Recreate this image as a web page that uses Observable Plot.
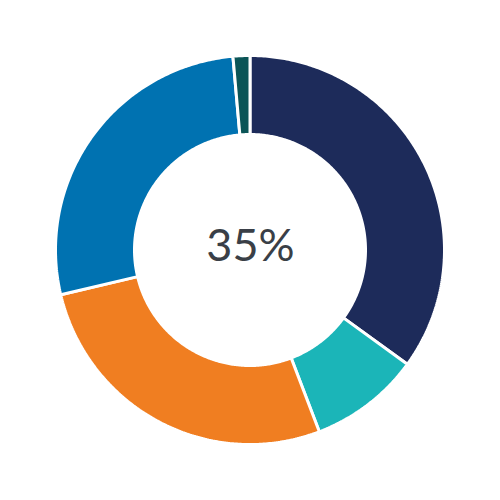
<!DOCTYPE html>
<html>
<head>
<meta charset="utf-8">
<script src="https://cdn.jsdelivr.net/npm/d3@7"></script>
<script src="https://cdn.jsdelivr.net/npm/@observablehq/plot@0.6"></script>
<style>
  html, body { margin: 0; padding: 0; background: #fff; }
  #chart { width: 500px; height: 500px; }
</style>
</head>
<body>
<div id="chart"></div>
<script>
// Data
const categories = ["Navy", "Teal", "Orange", "Blue", "Dark teal"];
const values = [35, 9.2, 27.1, 27.3, 1.4];
const colors = ["#1d2b5a", "#1bb5b8", "#f07e21", "#0072b1", "#0b5557"];
const centerLabel = "35%";

// Geometry of the ring (in scale units = px)
const outerR = 194.5, innerR = 115.5;

const pie = d3.pie().sort(null).value((d) => d.value);
const arcs = pie(categories.map((c, i) => ({ slice: c, value: values[i] })));

const ring = [];
for (const a of arcs) {
  const n = Math.max(4, Math.ceil((a.endAngle - a.startAngle) / 0.01));
  for (let k = 0; k <= n; k++) {
    const t = a.startAngle + (a.endAngle - a.startAngle) * (k / n);
    ring.push({
      slice: a.data.slice,
      x1: outerR * Math.sin(t), y1: outerR * Math.cos(t),
      x2: innerR * Math.sin(t), y2: innerR * Math.cos(t)
    });
  }
}

const chart = Plot.plot({
  width: 500,
  height: 500,
  margin: 0,
  x: { domain: [-250, 250], axis: null },
  y: { domain: [-250, 250], axis: null },
  color: { domain: categories, range: colors },
  style: { background: "white" },
  marks: [
    Plot.area(ring, {
      x1: "x1", y1: "y1", x2: "x2", y2: "y2",
      z: "slice", fill: "slice",
      stroke: "white", strokeWidth: 3, strokeLinejoin: "miter"
    }),
    Plot.text([centerLabel], {
      x: () => 0, y: () => 0, text: (d) => d,
      fontSize: 45, fontFamily: "Lato", fontWeight: 400,
      fill: "#3a3f47", dy: -4
    })
  ]
});
document.getElementById("chart").appendChild(chart);
</script>
</body>
</html>
